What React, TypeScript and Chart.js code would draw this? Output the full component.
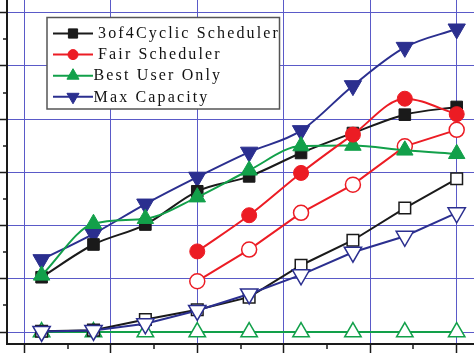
import React, { useEffect, useRef } from 'react';
import { Chart, registerables } from 'chart.js';

Chart.register(...registerables);

// ---- data ----
const xValues = [6, 9, 12, 15, 18, 21, 24, 27, 30];
const cyclicFilled = [2.06, 3.29, 4.04, 5.29, 5.85, 6.73, 7.48, 8.17, 8.46];
const cyclicOpen = [0.03, 0.07, 0.47, 0.84, 1.31, 2.51, 3.45, 4.66, 5.76];
const fairFilled = [null, null, null, 3.03, 4.39, 5.98, 7.42, 8.77, 8.19];
const fairOpen = [null, null, null, 1.91, 3.1, 4.48, 5.54, 6.98, 7.6];
const bestFilled = [2.13, 4.07, 4.26, 5.07, 6.08, 6.99, 7.01, 6.83, 6.7];
const bestOpen = [0, 0, 0, 0, 0, 0, 0, 0, 0];
const maxFilled = [2.72, 3.69, 4.81, 5.82, 6.76, 7.57, 9.26, 10.7, 11.39];
const maxOpen = [0.02, 0.06, 0.31, 0.81, 1.43, 2.15, 3.0, 3.6, 4.48];
const legendLabels = ['3of4Cyclic Scheduler', 'Fair Scheduler', 'Best User Only', 'Max Capacity'];

const xMin = 4;
const xMax = 31;
const xStep = 2.5;
const xGridStep = 5;
const yMin = -0.45;
const yMax = 12.48;
const yStep = 1;
const yGridStep = 2;

const BLACK = '#1a1a1a';
const RED = '#ec1c24';
const GREEN = '#12a04a';
const NAVY = '#2b2f8f';
const GRID = '#5a5ac8';

type Kind = 'rect' | 'circle' | 'triUp' | 'triDown';

const series: { data: (number | null)[]; color: string; kind: Kind; open: boolean; order: number; label: string }[] = [
  { data: cyclicFilled, color: BLACK, kind: 'rect', open: false, order: 3, label: legendLabels[0] },
  { data: fairFilled, color: RED, kind: 'circle', open: false, order: 1, label: legendLabels[1] },
  { data: bestFilled, color: GREEN, kind: 'triUp', open: false, order: 2, label: legendLabels[2] },
  { data: maxFilled, color: NAVY, kind: 'triDown', open: false, order: 4, label: legendLabels[3] },
  { data: cyclicOpen, color: BLACK, kind: 'rect', open: true, order: 6, label: '' },
  { data: fairOpen, color: RED, kind: 'circle', open: true, order: 7, label: '' },
  { data: bestOpen, color: GREEN, kind: 'triUp', open: true, order: 8, label: '' },
  { data: maxOpen, color: NAVY, kind: 'triDown', open: true, order: 5, label: '' },
];

const isMultiple = (v: number, step: number) => Math.abs(v / step - Math.round(v / step)) < 1e-6;

function drawMarker(ctx: CanvasRenderingContext2D, kind: Kind, x: number, y: number, r: number, fill: string, stroke: string, lw: number) {
  ctx.beginPath();
  if (kind === 'rect') {
    const s = r * Math.SQRT1_2;
    ctx.rect(x - s, y - s, 2 * s, 2 * s);
  } else if (kind === 'circle') {
    ctx.arc(x, y, r, 0, Math.PI * 2);
  } else if (kind === 'triUp') {
    ctx.moveTo(x, y - r);
    ctx.lineTo(x + r * 0.866, y + r / 2);
    ctx.lineTo(x - r * 0.866, y + r / 2);
    ctx.closePath();
  } else {
    ctx.moveTo(x, y + r);
    ctx.lineTo(x + r * 0.866, y - r / 2);
    ctx.lineTo(x - r * 0.866, y - r / 2);
    ctx.closePath();
  }
  ctx.fillStyle = fill;
  ctx.fill();
  ctx.lineWidth = lw;
  ctx.strokeStyle = stroke;
  ctx.stroke();
}

const decorPlugin = {
  id: 'decor',
  afterDatasetsDraw(chart: any) {
    const ctx: CanvasRenderingContext2D = chart.ctx;
    const xs = chart.scales.x;
    const ys = chart.scales.y;
    const area = chart.chartArea;
    ctx.save();
    // minor tick marks
    ctx.strokeStyle = BLACK;
    ctx.lineWidth = 1.5;
    xs.ticks.forEach((t: any) => {
      if (!isMultiple(t.value, xGridStep)) {
        const px = Math.round(xs.getPixelForValue(t.value));
        ctx.beginPath();
        ctx.moveTo(px, area.bottom);
        ctx.lineTo(px, area.bottom + 5);
        ctx.stroke();
      }
    });
    ys.ticks.forEach((t: any) => {
      if (!isMultiple(t.value, yGridStep)) {
        const py = Math.round(ys.getPixelForValue(t.value));
        ctx.beginPath();
        ctx.moveTo(area.left - 4, py);
        ctx.lineTo(area.left, py);
        ctx.stroke();
      }
    });

    // legend box
    const bx = 47, by = 17.5, bw = 232.5, bh = 91.5;
    ctx.fillStyle = '#ffffff';
    ctx.fillRect(bx, by, bw, bh);
    ctx.strokeStyle = '#555555';
    ctx.lineWidth = 1.5;
    ctx.strokeRect(bx, by, bw, bh);

    const legendSizes: Record<Kind, number> = { rect: 6.5, circle: 5, triUp: 7, triDown: 7 };
    const textX = [98, 98, 93.5, 93.5];
    series.slice(0, 4).forEach((s, i) => {
      const y = 33.5 + i * 21.1;
      ctx.strokeStyle = s.color;
      ctx.lineWidth = 2;
      ctx.beginPath();
      ctx.moveTo(53, y);
      ctx.lineTo(93, y);
      ctx.stroke();
      drawMarker(ctx, s.kind, 73, y, legendSizes[s.kind], s.color, s.color, 1);
      ctx.fillStyle = '#111111';
      ctx.font = '16px "Liberation Serif", "Times New Roman", serif';
      (ctx as any).letterSpacing = '2.15px';
      ctx.textBaseline = 'middle';
      ctx.textAlign = 'left';
      ctx.fillText(s.label, textX[i], y + 0.5);
    });
    ctx.restore();
  },
};

export default function App() {
  const canvasRef = useRef<HTMLCanvasElement | null>(null);

  useEffect(() => {
    const canvas = canvasRef.current;
    if (!canvas) return;
    const pointRadius: Record<Kind, number> = { rect: 8.2, circle: 7.5, triUp: 9.5, triDown: 10 };
    const datasets = series.map((s) => ({
      label: s.label,
      data: s.data.map((v, i) => ({ x: xValues[i], y: v })),
      order: s.order,
      borderColor: s.color,
      borderWidth: 2,
      backgroundColor: s.open ? '#ffffff' : s.color,
      pointBackgroundColor: s.open ? '#ffffff' : s.color,
      pointBorderColor: s.color,
      pointBorderWidth: s.open ? 1.5 : 1,
      pointRadius: pointRadius[s.kind],
      pointHoverRadius: pointRadius[s.kind],
      pointStyle: s.kind === 'rect' ? 'rect' : s.kind === 'circle' ? 'circle' : 'triangle',
      pointRotation: s.kind === 'triDown' ? 180 : 0,
      tension: s.open ? 0 : 0.4,
      cubicInterpolationMode: s.open ? 'default' : 'monotone',
      fill: false,
      spanGaps: false,
    }));

    const chart = new Chart(canvas, {
      type: 'line',
      data: { datasets: datasets as any },
      options: {
        animation: false,
        responsive: false,
        devicePixelRatio: 1,
        layout: { padding: 0, autoPadding: false },
        plugins: { legend: { display: false }, tooltip: { enabled: false }, title: { display: false } },
        scales: {
          x: {
            type: 'linear',
            min: xMin,
            max: xMax,
            afterBuildTicks: (scale: any) => {
              scale.ticks = scale.ticks.filter((t: any) => isMultiple(t.value, xStep));
            },
            ticks: { display: false, stepSize: xStep, includeBounds: false },
            grid: {
              color: (c: any) => (c.tick && isMultiple(c.tick.value, xGridStep) ? GRID : 'rgba(0,0,0,0)'),
              lineWidth: 1,
              drawTicks: true,
              tickLength: 9,
              tickWidth: 1.5,
              tickColor: (c: any) => (c.tick && isMultiple(c.tick.value, xGridStep) ? BLACK : 'rgba(0,0,0,0)'),
            },
            border: { display: true, color: BLACK, width: 2 },
          },
          y: {
            type: 'linear',
            min: yMin,
            max: yMax,
            afterBuildTicks: (scale: any) => {
              scale.ticks = scale.ticks.filter((t: any) => isMultiple(t.value, yStep));
            },
            ticks: { display: false, stepSize: yStep, includeBounds: false },
            grid: {
              color: (c: any) => (c.tick && isMultiple(c.tick.value, yGridStep) ? GRID : 'rgba(0,0,0,0)'),
              lineWidth: 1,
              drawTicks: true,
              tickLength: 7,
              tickWidth: 1.5,
              tickColor: (c: any) => (c.tick && isMultiple(c.tick.value, yGridStep) ? BLACK : 'rgba(0,0,0,0)'),
            },
            border: { display: true, color: BLACK, width: 2 },
          },
        },
      },
      plugins: [decorPlugin],
    });
    return () => chart.destroy();
  }, []);

  return (
    <div style={{ position: 'absolute', left: 0, top: 0, width: 474, height: 353, background: '#ffffff' }}>
      <canvas ref={canvasRef} width={474} height={353} style={{ display: 'block', width: 474, height: 353 }} />
    </div>
  );
}
